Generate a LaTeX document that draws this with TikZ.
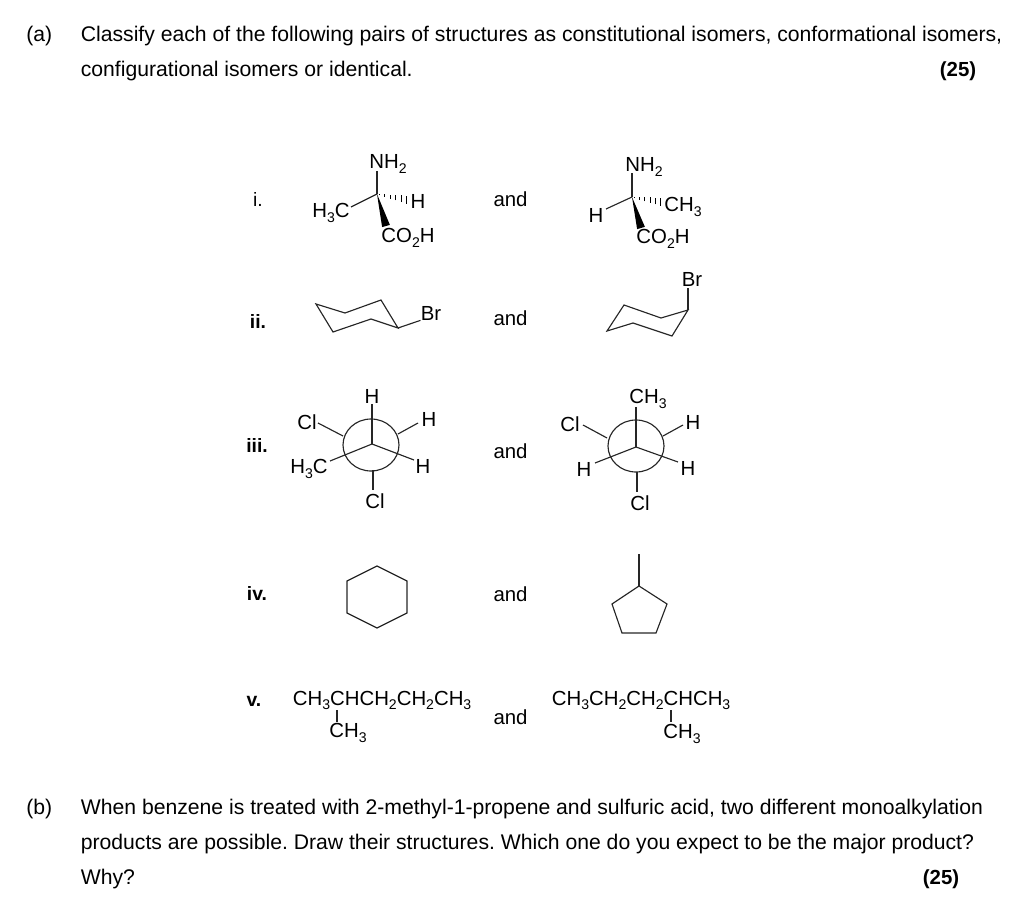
\documentclass[tikz,border=0pt]{standalone}
\usepackage{fontspec}
\setmainfont{Liberation Sans}
\usetikzlibrary{calc}
\frenchspacing

\newcommand{\subs}[1]{\raisebox{-0.45ex}{\fontsize{8}{8}\selectfont #1}}

\tikzset{
    bodytext/.style={anchor=base west, inner sep=0pt, font=\fontsize{12.05}{13}\selectfont},
    marktext/.style={anchor=base east, inner sep=0pt, font=\fontsize{11.6}{13}\selectfont\bfseries},
    rowlabel/.style={inner sep=0pt, font=\fontsize{11}{12}\selectfont},
    rowbold/.style={inner sep=0pt, font=\fontsize{11}{12}\selectfont\bfseries},
    andtext/.style={inner sep=0pt, font=\fontsize{11.6}{13}\selectfont},
    atom/.style={inner sep=0pt, font=\fontsize{11.6}{12}\selectfont},
    bond/.style={line width=0.65pt, draw=black!85},
}

\newcommand{\wedgebond}[2]{\fill[black] (#1) -- ($(#2)!2.3pt!90:(#1)$) -- ($(#2)!2.3pt!-90:(#1)$) -- cycle;}
\newcommand{\hashbond}[2]{%
    \foreach \t in {0.08,0.26,0.44,0.62,0.80,0.98} {
        \draw[line width=0.5pt] ($(#1)!\t!(#2)$) +(0pt,{-(0.3+2*\t)*1pt}) -- +(0pt,{(0.3+2*\t)*1pt});
    }
}

\begin{document}
\begin{tikzpicture}[x=0.02cm,y=-0.02cm]

    \useasboundingbox (0,0) rectangle (1024,922);

    % Question text (a)
    \node[bodytext] (parta) at (26,41.5) {(a)};
    \node[bodytext] (partaone) at (80.5,41.5) {Classify each of the following pairs of structures as constitutional isomers, conformational isomers,};
    \node[bodytext] (partatwo) at (80.5,76.5) {configurational isomers or identical.};
    \node[marktext] (marka) at (976.5,76.5) {(25)};

    % Row labels
    \node[rowlabel] (rowi) at (258,199) {i.};
    \node[rowbold] (rowii) at (258,321) {ii.};
    \node[rowbold] (rowiii) at (257,445) {iii.};
    \node[rowbold] (rowiv) at (257,593) {iv.};
    \node[rowbold] (rowv) at (254,701) {v.};

    \node[andtext] (andi) at (510.5,199) {and};
    \node[andtext] (andii) at (510.5,318) {and};
    \node[andtext] (andiii) at (510.5,451) {and};
    \node[andtext] (andiv) at (510.5,594) {and};
    \node[andtext] (andv) at (510.5,717) {and};

    % Row i, left
    \coordinate (Ca) at (377,194);
    \coordinate (Caup) at (377,171);
    \coordinate (Caleft) at (351,207);
    \coordinate (Cahash) at (407,200);
    \coordinate (Cadown) at (386,226);
    \node[atom] (nha) at (388,164) {NH\subs{2}};
    \node[atom] (ha) at (418,201) {H};
    \node[atom] (mea) at (331,213) {H\subs{3}C};
    \node[atom] (coa) at (408,238) {CO\subs{2}H};
    \draw[bond] (Ca) -- (Caup);
    \draw[bond] (Ca) -- (Caleft);
    \wedgebond{Ca}{Cadown}
    \hashbond{Ca}{Cahash}

    % Row i, right
    \coordinate (Cb) at (632,197);
    \coordinate (Cbup) at (632,173);
    \coordinate (Cbleft) at (606,209);
    \coordinate (Cbhash) at (661,202);
    \coordinate (Cbdown) at (641,228);
    \node[atom] (nhb) at (644,167) {NH\subs{2}};
    \node[atom] (hb) at (596,215) {H};
    \node[atom] (meb) at (683,207) {CH\subs{3}};
    \node[atom] (cob) at (663,239) {CO\subs{2}H};
    \draw[bond] (Cb) -- (Cbup);
    \draw[bond] (Cb) -- (Cbleft);
    \wedgebond{Cb}{Cbdown}
    \hashbond{Cb}{Cbhash}

    % Row ii, left
    \coordinate (Ra) at (316,304);
    \coordinate (Rb) at (345,313);
    \coordinate (Rc) at (381,300);
    \coordinate (Rd) at (398,328);
    \coordinate (Re) at (371,319);
    \coordinate (Rf) at (333,332);
    \node[atom] (bra) at (431,313) {Br};
    \draw[bond] (Ra) -- (Rb) -- (Rc) -- (Rd) -- (Re) -- (Rf) -- cycle;
    \draw[bond] (Rd) -- (bra.south west);

    % Row ii, right
    \coordinate (Sa) at (624,305);
    \coordinate (Sb) at (661,318);
    \coordinate (Sc) at (688,310);
    \coordinate (Sd) at (672,336);
    \coordinate (Se) at (633,323);
    \coordinate (Sf) at (607,331);
    \node[atom] (brb) at (692,279) {Br};
    \draw[bond] (Sa) -- (Sb) -- (Sc) -- (Sd) -- (Se) -- (Sf) -- cycle;
    \draw[bond] (Sc) -- (688,288);

    % Row iii, left
    \coordinate (Na) at (372,444);
    \coordinate (Naup) at (372,404);
    \coordinate (Nall) at (330,461);
    \coordinate (Nalr) at (414,460);
    \coordinate (Nabot) at (373,470);
    \coordinate (Nadown) at (373,490);
    \coordinate (Nacl) at (343,436);
    \coordinate (Naclend) at (318,423);
    \coordinate (Nah) at (398,434);
    \coordinate (Nahend) at (418,423);
    \draw[bond] (371,445) ellipse (28 and 26);
    \draw[bond] (Na) -- (Naup);
    \draw[bond] (Na) -- (Nall);
    \draw[bond] (Na) -- (Nalr);
    \draw[bond] (Nabot) -- (Nadown);
    \draw[bond] (Nacl) -- (Naclend);
    \draw[bond] (Nah) -- (Nahend);
    \node[atom] (hna) at (372,396) {H};
    \node[atom] (hnb) at (429,419) {H};
    \node[atom] (hnc) at (423,466) {H};
    \node[atom] (clna) at (375,501) {Cl};
    \node[atom] (clnb) at (307,422) {Cl};
    \node[atom] (mena) at (309,469) {H\subs{3}C};

    % Row iii, right
    \coordinate (Nb) at (636,447);
    \coordinate (Nbup) at (636,407);
    \coordinate (Nbll) at (595,463);
    \coordinate (Nblr) at (678,462);
    \coordinate (Nbbot) at (637,472);
    \coordinate (Nbdown) at (637,492);
    \coordinate (Nbcl) at (607,438);
    \coordinate (Nbclend) at (583,425);
    \coordinate (Nbh) at (663,436);
    \coordinate (Nbhend) at (683,425);
    \draw[bond] (636,446) ellipse (28 and 26);
    \draw[bond] (Nb) -- (Nbup);
    \draw[bond] (Nb) -- (Nbll);
    \draw[bond] (Nb) -- (Nblr);
    \draw[bond] (Nbbot) -- (Nbdown);
    \draw[bond] (Nbcl) -- (Nbclend);
    \draw[bond] (Nbh) -- (Nbhend);
    \node[atom] (menb) at (648,399) {CH\subs{3}};
    \node[atom] (hnd) at (693,422) {H};
    \node[atom] (hne) at (688,468) {H};
    \node[atom] (hnf) at (584,469) {H};
    \node[atom] (clnc) at (570,424) {Cl};
    \node[atom] (clnd) at (640,503) {Cl};

    % Row iv
    \draw[bond] (377,566) -- (407,581) -- (407,613) -- (377,628) -- (347,613) -- (347,581) -- cycle;
    \coordinate (Pa) at (639,586);
    \coordinate (Pup) at (639,554);
    \draw[bond] (Pa) -- (667,604) -- (656,633) -- (622,633) -- (612,604) -- cycle;
    \draw[bond] (Pa) -- (Pup);

    % Row v
    \node[atom, anchor=base west] (chaina) at (292.5,705) {CH\subs{3}CHCH\subs{2}CH\subs{2}CH\subs{3}};
    \node[atom] (branchaa) at (348,733) {CH\subs{3}};
    \draw[bond] (337,710) -- (337,722);
    \node[atom, anchor=base west] (chainb) at (551.5,705) {CH\subs{3}CH\subs{2}CH\subs{2}CHCH\subs{3}};
    \node[atom] (branchb) at (682,734) {CH\subs{3}};
    \draw[bond] (671,710) -- (671,722);

    % Question text (b)
    \node[bodytext] (partb) at (26,814.5) {(b)};
    \node[bodytext] (partbone) at (80.5,814.5) {When benzene is treated with 2-methyl-1-propene and sulfuric acid, two different monoalkylation};
    \node[bodytext] (partbtwo) at (80.5,849.5) {products are possible. Draw their structures. Which one do you expect to be the major product?};
    \node[bodytext] (partbthree) at (80.5,884.5) {Why?};
    \node[marktext] (markb) at (959.5,884.5) {(25)};

\end{tikzpicture}
\end{document}
